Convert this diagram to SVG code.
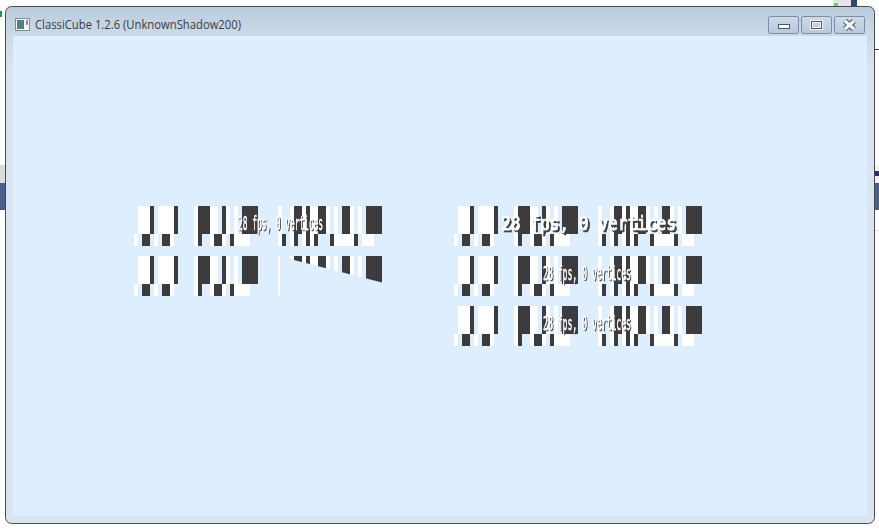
<svg xmlns="http://www.w3.org/2000/svg" xmlns:xlink="http://www.w3.org/1999/xlink" width="879" height="531" viewBox="0 0 879 531">
<style>
.w{fill:#fff}.d{fill:#3c3c3c}
.btn{fill:url(#btnG);stroke:#7b8ba8;stroke-width:1}
.fps{font-family:"DejaVu Sans Mono","Liberation Mono",monospace;fill:#fff}
.small{font-size:19px;stroke:#fff;stroke-width:0.35px;filter:url(#sh1)}
.big{font-size:19px;stroke:#fff;stroke-width:0.7px;filter:url(#sh2)}
.title{font-family:"Open Sans","Noto Sans",sans-serif;font-size:12px;fill:#3d3d3d}
</style>
<defs>
<linearGradient id="frameG" x1="0" y1="0" x2="0" y2="1"><stop offset="0" stop-color="#b9cbdc"/><stop offset="0.06" stop-color="#cddbe9"/><stop offset="0.12" stop-color="#d8e4ef"/><stop offset="1" stop-color="#d8e4ef"/></linearGradient>
<linearGradient id="btnG" x1="0" y1="0" x2="0" y2="1"><stop offset="0" stop-color="#cfdbe8"/><stop offset="1" stop-color="#b8c8dc"/></linearGradient>
<filter id="sh1" x="-5%" y="-20%" width="110%" height="140%"><feDropShadow dx="1" dy="1" stdDeviation="0" flood-color="#3c3c3c"/></filter>
<filter id="sh2" x="-5%" y="-20%" width="110%" height="140%"><feDropShadow dx="2" dy="2" stdDeviation="0" flood-color="#3c3c3c"/></filter>
<clipPath id="cut"><polygon points="284,256 382,256 382,282.5 290,259 284,258"/></clipPath>
<g id="a">
<path class="w" d="M138 0h12v28h-12zM158 0h16v28h-16zM134 28h4v12h-4zM154 28h4v12h-4zM170 28h4v12h-4zM194 0h4v40h-4zM210 0h8v28h-8zM226 0h4v28h-4zM234 0h4v28h-4zM210 28h4v12h-4zM222 28h4v12h-4zM234 28h16v12h-16z"/>
<path class="d" d="M150 0h4v28h-4zM174 0h4v28h-4zM142 28h8v12h-8zM162 28h8v12h-8zM198 0h12v28h-12zM222 0h4v28h-4zM242 0h16v28h-16zM198 28h4v12h-4zM214 28h8v12h-8zM230 28h4v12h-4z"/>
</g>
<g id="b">
<path class="w" d="M290 0h4v28h-4zM302 0h4v28h-4zM310 0h8v28h-8zM326 0h4v28h-4zM334 0h4v28h-4zM350 0h4v28h-4zM358 0h4v28h-4z"/>
<path class="d" d="M294 0h8v28h-8zM306 0h4v28h-4zM318 0h8v28h-8zM342 0h8v28h-8zM366 0h16v28h-16z"/>
</g>
<g id="c">
<path class="w" d="M278 0h4v40h-4zM290 28h4v12h-4zM302 28h4v12h-4zM310 28h4v12h-4zM334 28h20v12h-20zM362 28h12v12h-12z"/>
<path class="d" d="M282 28h4v12h-4zM294 28h4v12h-4zM306 28h4v12h-4zM314 28h4v12h-4zM330 28h4v12h-4zM354 28h4v12h-4z"/>
</g>
</defs>
<rect width="879" height="531" fill="#fff"/>
<g id="behind">
<rect x="0" y="165" width="6" height="18" fill="#dcdcdc"/>
<rect x="0" y="183" width="6" height="27" fill="#4a5f88"/>
<rect x="875" y="165" width="4" height="18" fill="#f2f2f2"/>
<rect x="875" y="183" width="4" height="27" fill="#4a5f88"/>
<rect x="875" y="230" width="4" height="1" fill="#dcdcdc"/>
<rect x="875" y="49" width="4" height="1" fill="#333"/>
<rect x="833" y="0" width="18" height="6" fill="#e4e4ea"/>
<rect x="834" y="3" width="4" height="3" fill="#5fd45f"/>
<rect x="851" y="0" width="6" height="6" fill="#2f4468"/>
<rect x="0" y="11" width="2" height="6" fill="#1a9a4a"/>
<rect x="875" y="171" width="4" height="5" fill="#2a2a70"/>
</g>
<g id="window">
<rect x="5.5" y="6.5" width="869" height="517" rx="6" fill="url(#frameG)" stroke="#4a4a4a"/>
<rect x="13" y="36" width="854" height="480" fill="#ddeeff"/>
<g id="icon">
<rect x="15.5" y="18.5" width="14" height="12" fill="#f4f6f8" stroke="#7f8d9b"/>
<rect x="17" y="20" width="7" height="9" fill="#4d8480"/>
<rect x="26" y="20" width="2" height="5" fill="#8a8f95"/>
</g>
<text class="title" x="35" y="29" textLength="206" lengthAdjust="spacingAndGlyphs">ClassiCube 1.2.6 (UnknownShadow200)</text>
<g id="btn-min">
<rect class="btn" x="768.5" y="16.5" width="30" height="17" rx="2"/>
<rect x="778.5" y="24.5" width="11" height="4" fill="#f4f6f8" stroke="#4d5566"/>
</g>
<g id="btn-max">
<rect class="btn" x="801.5" y="16.5" width="30" height="17" rx="2"/>
<rect x="811.5" y="21.5" width="10" height="7" fill="none" stroke="#f4f6f8" stroke-width="3"/>
<rect x="811.5" y="21.5" width="10" height="7" fill="none" stroke="#4d5566" stroke-width="1"/>
</g>
<g id="btn-close">
<rect class="btn" x="834.5" y="16.5" width="30" height="17" rx="2"/>
<path d="M845 21l9 8M854 21l-9 8" stroke="#4d5566" stroke-width="5.5" fill="none"/>
<path d="M845 21l9 8M854 21l-9 8" stroke="#f4f6f8" stroke-width="3.2" fill="none"/>
</g>
</g>
<g id="tiles-left">
<use href="#a" xlink:href="#a" y="206"/><use href="#b" xlink:href="#b" y="206"/><use href="#c" xlink:href="#c" y="206"/>
<use href="#a" xlink:href="#a" y="256"/>
<rect class="w" x="278" y="256" width="2" height="40"/>
<g clip-path="url(#cut)"><use href="#b" xlink:href="#b" y="256"/></g>
</g>
<g id="tiles-right" transform="translate(320 0)">
<use href="#a" xlink:href="#a" y="206"/><use href="#b" xlink:href="#b" y="206"/><use href="#c" xlink:href="#c" y="206"/>
<use href="#a" xlink:href="#a" y="256"/><use href="#b" xlink:href="#b" y="256"/><use href="#c" xlink:href="#c" y="256"/>
<use href="#a" xlink:href="#a" y="306"/><use href="#b" xlink:href="#b" y="306"/><use href="#c" xlink:href="#c" y="306"/>
</g>
<g id="labels">
<text class="fps small" x="238" y="230" textLength="85" lengthAdjust="spacingAndGlyphs">28 fps, 0 vertices</text>
<text class="fps big" x="501" y="230" textLength="175" lengthAdjust="spacingAndGlyphs">28 fps, 0 vertices</text>
<text class="fps small" x="543" y="280" textLength="88" lengthAdjust="spacingAndGlyphs">28 fps, 0 vertices</text>
<text class="fps small" x="543" y="330" textLength="88" lengthAdjust="spacingAndGlyphs">28 fps, 0 vertices</text>
</g>
</svg>
